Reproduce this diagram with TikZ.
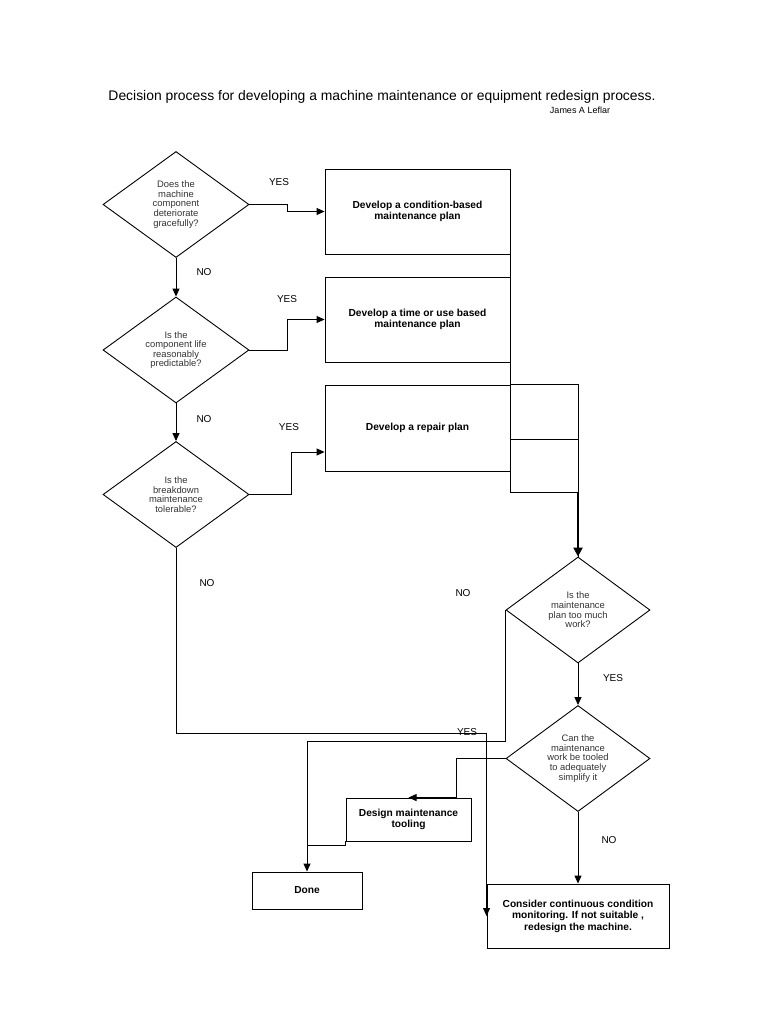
\documentclass[tikz,border=0pt]{standalone}
\usepackage{fontspec}
\setmainfont{Liberation Sans}
\usetikzlibrary{shapes.geometric,arrows.meta}
\begin{document}
\begin{tikzpicture}[x=1pt, y=-1pt, line width=0.9pt,
  every node/.style={font=\fontsize{10}{12}\selectfont},
  decision/.style={draw, diamond, shape aspect=1.4, inner sep=0pt, minimum width=146pt, minimum height=106pt, align=center, text=black!80, font=\fontsize{9.4}{9.6}\selectfont},
  plan/.style={draw, rectangle, inner sep=2pt, align=center, font=\bfseries\fontsize{10.2}{11.5}\selectfont},
  lbl/.style={font=\fontsize{10}{12}\selectfont},
  arr/.style={-{Triangle[length=8pt,width=7pt]}}]
  \useasboundingbox (0,0) rectangle (768,1024);
  \node[font=\fontsize{13.9}{16}\selectfont] (title) at (382,97) {Decision process for developing a machine maintenance or equipment redesign process.};
  \node[font=\fontsize{9}{10}\selectfont] (author) at (580,110) {James A Leflar};
  \node[decision] (d1) at (176,204.5) {Does the\\machine\\component\\deteriorate\\gracefully?};
  \node[decision] (d2) at (176,350) {Is the\\component life\\reasonably\\predictable?};
  \node[decision] (d3) at (176,494.5) {Is the\\breakdown\\maintenance\\tolerable?};
  \node[decision, minimum width=144pt] (d4) at (578,610) {Is the\\maintenance\\plan too much\\work?};
  \node[decision, minimum width=144pt] (d5) at (578,758.5) {Can the\\maintenance\\work be tooled\\to adequately\\simplify it};
  \node[plan, minimum width=185pt, minimum height=85pt] (b1) at (417.5,211.5) {Develop a condition-based\\maintenance plan};
  \node[plan, minimum width=185pt, minimum height=85pt] (b2) at (417.5,319.5) {Develop a time or use based\\maintenance plan};
  \node[plan, minimum width=185pt, minimum height=86pt] (b3) at (417.5,428) {Develop a repair plan};
  \node[plan, minimum width=125pt, minimum height=43pt] (tool) at (408.5,819.5) {Design maintenance\\tooling};
  \node[plan, minimum width=110pt, minimum height=37pt] (done) at (307,890.5) {Done};
  \node[plan, minimum width=182pt, minimum height=64pt] (b6) at (578,916) {Consider continuous condition\\monitoring. If not suitable ,\\redesign the machine.};
  \node[lbl] (yes1) at (279,182) {YES};
  \node[lbl] (no1) at (204,272) {NO};
  \node[lbl] (yes2) at (287,299) {YES};
  \node[lbl] (no2) at (204,419) {NO};
  \node[lbl] (yes3) at (289,427) {YES};
  \node[lbl] (no3) at (207,583) {NO};
  \node[lbl] (no4) at (463,593) {NO};
  \node[lbl] (yes4) at (613,678) {YES};
  \node[lbl] (yes5) at (467,732) {YES};
  \node[lbl] (no5) at (609,840) {NO};
  \draw[arr] (d1.east) -- ++(38,0) |- (b1.west);
  \draw[arr] (d2.east) -- ++(38,0) |- (b2.west);
  \draw[arr] (d3.east) -- ++(42,0) |- ([yshift=-24pt]b3.west);
  \draw[arr] (d1.south) -- (d2.north);
  \draw[arr] (d2.south) -- (d3.north);
  \draw (b1.south east) -- (b2.north east);
  \draw (b2.south east) -- (b3.north east);
  \draw (b3.north east) -| (d4.north);
  \draw ([yshift=-11pt]b3.east) -- ++(68,0);
  \coordinate (join) at (578,492);
  \draw (b3.south east) |- (join);
  \draw[line width=2.6pt, -{Triangle[length=9pt,width=9pt]}] (join) -- (d4.north);
  \draw[arr] (d4.south) -- (d5.north);
  \draw[arr] (d5.south) -- (b6.north);
  \draw[arr] (d4.west) -- ++(0,131) -| (done.north);
  \draw[arr] (d3.south) -- ++(0,185) -| (b6.west);
  \draw[arr] (d5.west) -| ([xshift=47.5pt]tool.north) -- (tool.north);
  \draw (tool.south west) |- ([yshift=26pt]done.north);
\end{tikzpicture}
\end{document}
